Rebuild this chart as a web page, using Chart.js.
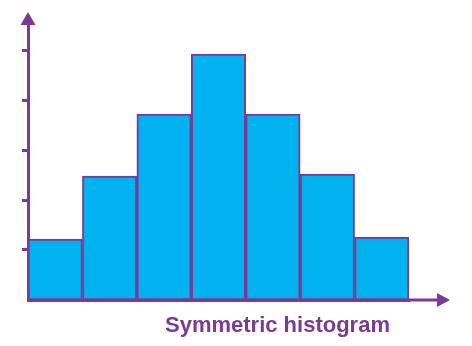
<!DOCTYPE html>
<html>
<head>
<meta charset="utf-8">
<script src="https://cdn.jsdelivr.net/npm/chart.js@4"></script>
<style>
html,body{margin:0;padding:0;background:#fff;}
#wrap{width:472px;height:346px;position:relative;}
</style>
</head>
<body>
<div id="wrap"><canvas id="c" width="472" height="346"></canvas></div>
<script>
const categories = ['1', '2', '3', '4', '5', '6', '7'];
const frequencies = [1.22, 2.48, 3.72, 4.92, 3.72, 2.52, 1.26];
const yTickValues = [1, 2, 3, 4, 5];
const yMax = 5.5;
const titleText = 'Symmetric histogram';

const PURPLE = '#7a3a96';
const CYAN = '#00b2ef';

const decor = {
  id: 'decor',
  afterDraw(chart) {
    const ctx = chart.ctx;
    const a = chart.chartArea;
    const yTop = chart.scales.y.getPixelForValue(yMax);
    ctx.save();
    ctx.strokeStyle = PURPLE;
    ctx.fillStyle = PURPLE;
    ctx.lineWidth = 3;
    // x axis extension
    ctx.beginPath();
    ctx.moveTo(a.right - 2, a.bottom);
    ctx.lineTo(440, a.bottom);
    ctx.stroke();
    // x arrow
    ctx.beginPath();
    ctx.moveTo(450, a.bottom);
    ctx.lineTo(437, a.bottom - 7);
    ctx.lineTo(437, a.bottom + 7);
    ctx.closePath();
    ctx.fill();
    // y arrow
    ctx.beginPath();
    ctx.moveTo(a.left, yTop - 13);
    ctx.lineTo(a.left - 7.5, yTop);
    ctx.lineTo(a.left + 7.5, yTop);
    ctx.closePath();
    ctx.fill();
    // title
    ctx.font = 'bold 22px "Liberation Sans", Arial, sans-serif';
    ctx.textBaseline = 'alphabetic';
    ctx.textAlign = 'left';
    ctx.fillText(titleText, 165, 332);
    ctx.restore();
  }
};

new Chart(document.getElementById('c'), {
  type: 'bar',
  data: {
    labels: categories,
    datasets: [{
      data: frequencies,
      backgroundColor: CYAN,
      borderColor: PURPLE,
      borderWidth: 2,
      borderSkipped: false,
      categoryPercentage: 1,
      barPercentage: 1
    }]
  },
  options: {
    responsive: false,
    animation: false,
    events: [],
    layout: { padding: { left: 22, right: 63, top: 25, bottom: 46 } },
    plugins: { legend: { display: false }, tooltip: { enabled: false }, title: { display: false } },
    scales: {
      x: {
        display: true,
        grid: { display: false, drawTicks: false },
        ticks: { display: false },
        border: { display: true, color: PURPLE, width: 3 }
      },
      y: {
        min: 0,
        max: yMax,
        afterBuildTicks(scale) { scale.ticks = yTickValues.map(v => ({ value: v })); },
        grid: { drawOnChartArea: false, drawTicks: true, tickLength: 6, tickColor: PURPLE, tickWidth: 3 },
        ticks: { display: false },
        border: { display: true, color: PURPLE, width: 3 }
      }
    }
  },
  plugins: [decor]
});
</script>
</body>
</html>
